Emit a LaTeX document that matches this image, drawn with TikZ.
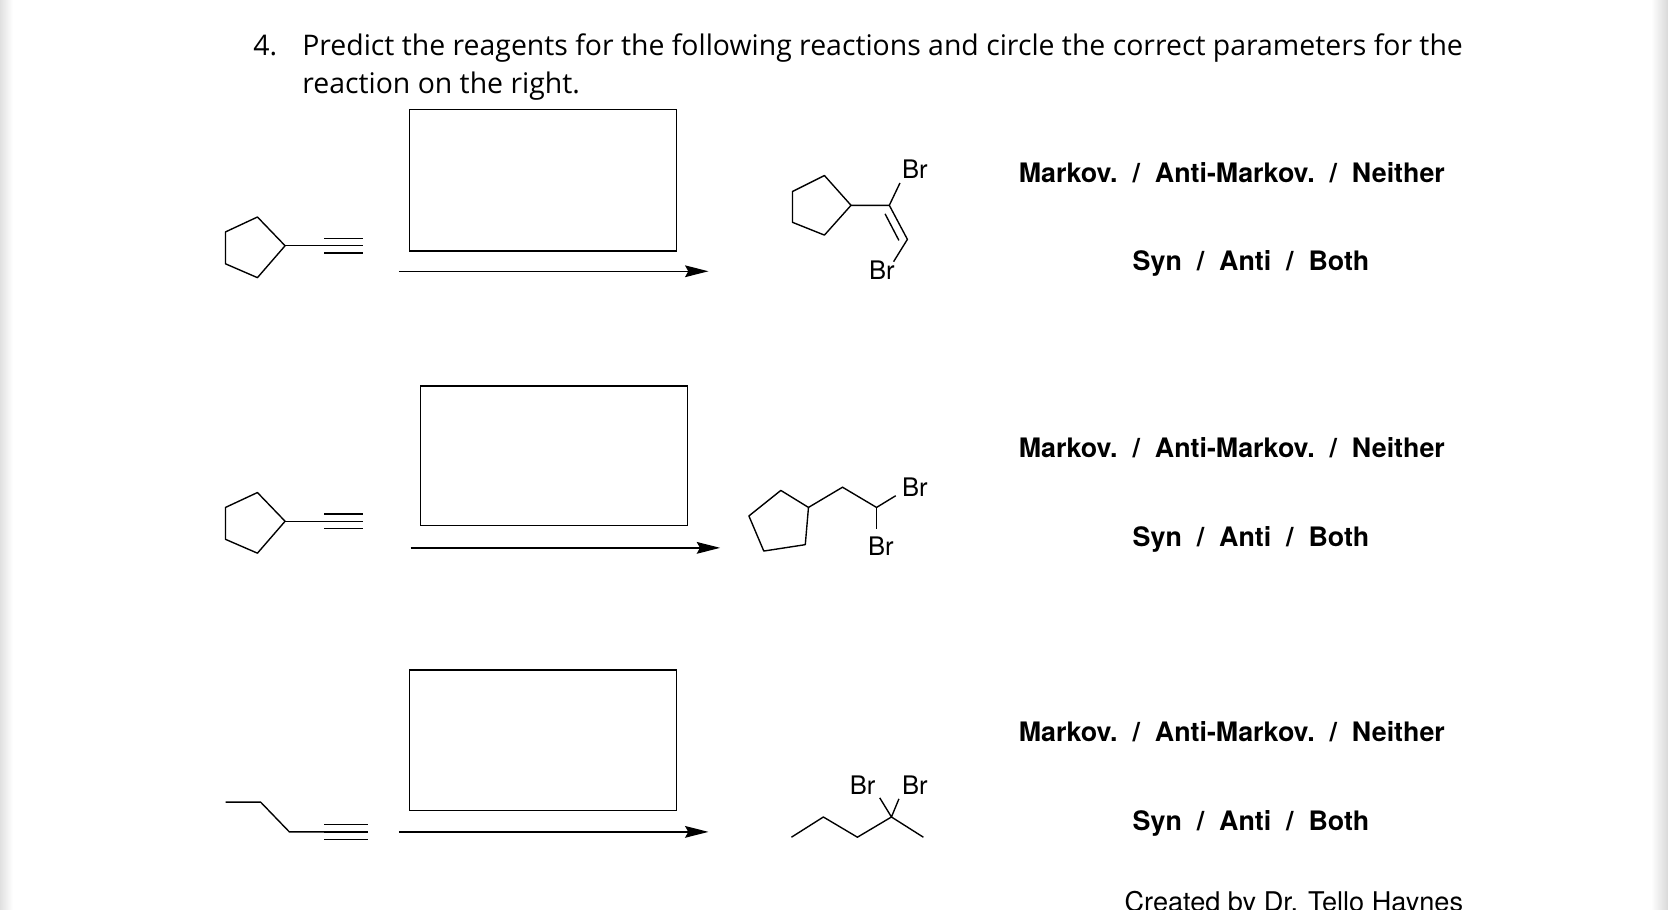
\documentclass[tikz,border=0pt]{standalone}
\usepackage{fontspec}
\setmainfont{Open Sans}
\newfontfamily\hv{TeX Gyre Heros}
\usetikzlibrary{arrows.meta}
\begin{document}
\begin{tikzpicture}[x=1pt,y=-1pt,
  bond/.style={line width=1.3pt},
  rbox/.style={draw,line width=1.4pt},
  rarrow/.style={line width=1.4pt,-{Stealth[length=22pt,width=11pt,inset=3pt]}},
  brlab/.style={font=\hv\fontsize{24}{28}\selectfont,inner sep=0pt},
  parm/.style={font=\hv\bfseries\fontsize{25.2}{28}\selectfont,inner sep=0pt},
  title/.style={font=\fontsize{26.7}{34}\selectfont,inner sep=0pt,anchor=base west}]
\useasboundingbox (0,0) rectangle (1568,855);
\fill[white] (0,0) rectangle (1568,855);
\shade[left color=black!12,right color=white] (0,0) rectangle (12,855);
\shade[left color=white,right color=black!15] (1552,0) rectangle (1568,855);
% title
\node[title] (num) at (238,52) {4.};
\node[title] (t1) at (284,52) {Predict the reagents for the following reactions and circle the correct parameters for the};
\node[title] (t2) at (284,88) {reaction on the right.};
% ---------- reactants rows 1,2 ----------
\foreach \dy/\n in {0/a,259/b}{
  \begin{scope}[yshift=-\dy]
  \coordinate (\n1) at (242,204); \coordinate (\n2) at (212,218); \coordinate (\n3) at (212,248);
  \coordinate (\n4) at (242,261); \coordinate (\n5) at (268,231);
  \draw[bond,line join=round] (\n1)--(\n2)--(\n3)--(\n4)--(\n5)--cycle;
  \coordinate (\n e) at (341,231);
  \draw[bond] (\n5)--(\n e);
  \draw[bond] (305,224)--(341,224) (305,238)--(341,238);
  \end{scope}}
\node[rbox,minimum width=251pt,minimum height=133pt] (box1) at (510.5,169.5) {};
\coordinate (ar1s) at (375,255); \coordinate (ar1e) at (666,255);
\draw[rarrow] (ar1s)--(ar1e);
% product 1
\coordinate (p1) at (775,165); \coordinate (p2) at (745,180); \coordinate (p3) at (745,209);
\coordinate (p4) at (775,221); \coordinate (p5) at (800,193);
\draw[bond,line join=round] (p1)--(p2)--(p3)--(p4)--(p5)--cycle;
\coordinate (c1) at (836,193); \coordinate (c2) at (853,225);
\node[brlab] (br1) at (860,159) {Br};
\node[brlab] (br2) at (829,254) {Br};
\draw[bond] (p5)--(c1)--(846,172);
\draw[bond] (c1)--(c2)--(840,246);
\draw[bond] (832,201)--(845,226);
\node[parm] (m1) at (1158,162) {Markov.\ \ /\ \ Anti-Markov.\ \ /\ \ Neither};
\node[parm] (s1) at (1176,248) {Syn\ \ /\ \ Anti\ \ /\ \ Both};
% ---------- row 2 ----------
\node[rbox,minimum width=251pt,minimum height=131pt] (box2) at (521,428.5) {};
\coordinate (ar2s) at (386,515); \coordinate (ar2e) at (677,515);
\draw[rarrow] (ar2s)--(ar2e);
\coordinate (q1) at (734,461); \coordinate (q2) at (704,485); \coordinate (q3) at (718,518);
\coordinate (q4) at (757,512); \coordinate (q5) at (760,477);
\draw[bond,line join=round] (q1)--(q2)--(q3)--(q4)--(q5)--cycle;
\coordinate (d1) at (792,458); \coordinate (d2) at (824,477);
\draw[bond] (q5)--(d1)--(d2)--(842,466);
\draw[bond] (d2)--(824,497);
\node[brlab] (br3) at (860,458) {Br};
\node[brlab] (br4) at (828,513) {Br};
\node[parm] (m2) at (1158,421) {Markov.\ \ /\ \ Anti-Markov.\ \ /\ \ Neither};
\node[parm] (s2) at (1176,507) {Syn\ \ /\ \ Anti\ \ /\ \ Both};
% ---------- row 3 ----------
\coordinate (r1) at (212,754); \coordinate (r2) at (245,754); \coordinate (r3) at (272,782);
\coordinate (r4) at (341,782);
\draw[bond,line join=round] (r1)--(r2)--(r3)--(r4);
\draw[bond] (305,775)--(346,775) (305,789)--(346,789) (305,782)--(346,782);
\node[rbox,minimum width=251pt,minimum height=132pt] (box3) at (510.5,696) {};
\coordinate (ar3s) at (375,782); \coordinate (ar3e) at (666,782);
\draw[rarrow] (ar3s)--(ar3e);
\coordinate (z1) at (744,787); \coordinate (z2) at (774,768); \coordinate (z3) at (806,787);
\coordinate (z4) at (838,768); \coordinate (z5) at (868,787);
\draw[bond,line join=round] (z1)--(z2)--(z3)--(z4)--(z5);
\draw[bond] (z4)--(827,750) (z4)--(845,751);
\node[brlab] (br5) at (811,738) {Br};
\node[brlab] (br6) at (860,738) {Br};
\node[parm] (m3) at (1158,688) {Markov.\ \ /\ \ Anti-Markov.\ \ /\ \ Neither};
\node[parm] (s3) at (1176,774) {Syn\ \ /\ \ Anti\ \ /\ \ Both};
\node[font=\hv\fontsize{25.5}{28}\selectfont,inner sep=0pt,anchor=base west] (cr) at (1057,857) {Created by Dr. Tello Haynes};
\end{tikzpicture}
\end{document}
